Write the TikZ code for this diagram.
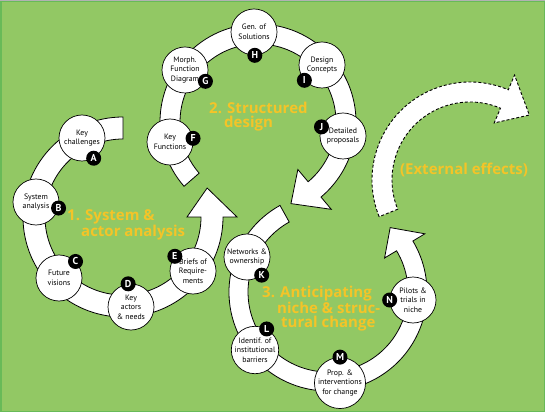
\documentclass[tikz,border=0pt]{standalone}
\usepackage{fontspec}
\setmainfont{PT Sans}
\newfontfamily\phasefont{Open Sans}

\definecolor{bggreen}{RGB}{146,200,100}
\definecolor{rimgreen}{RGB}{104,186,88}
\definecolor{titleyellow}{RGB}{244,196,40}

\tikzset{
  band/.style={draw=black, fill=white, line width=0.8pt, line join=miter},
  stage/.style={circle, draw, fill=white, line width=0.7pt, minimum size=46pt,
    inner sep=0pt, align=center, font=\fontsize{7.8}{9.6}\selectfont},
  badge/.style={circle, fill=black, minimum size=15pt, inner sep=0pt,
    text=white, font=\bfseries\fontsize{10}{10}\selectfont},
  phase/.style={text=titleyellow, font=\phasefont\bfseries\fontsize{15}{13.5}\selectfont,
    align=left, inner sep=0pt, anchor=north west},
}

% #2 centre, #3 inner radius, #4 outer radius, #5 start, #6 end, #7 tip angle, #8 wing
\newcommand{\ringarrow}[8][]{%
  \draw[band, shift={#2}, #1] (#5:#4) arc[start angle=#5, end angle=#6, radius=#4]
    -- (#6:{#4+#8}) -- (#7:{(#3+#4)/2}) -- (#6:{#3-#8}) -- (#6:#3)
    arc[start angle=#6, end angle=#5, radius=#3] -- cycle;}

\begin{document}
\begin{tikzpicture}[x=1pt, y=1pt]
    \useasboundingbox (0,0) rectangle (545,415);
    \fill[white] (0,0) rectangle (545,415);
    \fill[bggreen] (0,3) rectangle (545,415);
    \draw[rimgreen, line width=1.5pt] (0.75,3.75) rectangle (544.25,413.5);
    \draw[gray!60, line width=1pt] (0,414.5) -- (545,414.5);

    % the four loops
    \ringarrow{(123,198)}{78}{100}{90}{360}{379}{14}
    \ringarrow{(258,293)}{78}{98}{221}{-50}{-68}{16}
    \ringarrow{(328,123)}{80}{99}{119}{391}{406}{14}
    \ringarrow[dashed, line width=0.9pt, dash pattern=on 3pt off 2pt]{(470,235)}{78}{98}{202}{67}{47.6}{16}

    % 1. system & actor analysis
    \node[stage] (A) at (82, 277) {Key\\challenges};
    \node[stage] (B) at (36, 213) {System\\analysis};
    \node[stage] (C) at (59, 137) {Future\\visions};
    \node[stage] (D) at (131, 108) {Key\\actors\\\& needs};
    \node[stage] (E) at (193, 144) {Briefs of\\Require-\\ments};

    % 2. structured design
    \node[stage] (F) at (170, 273) {Key\\Functions};
    \node[stage] (G) at (185, 345) {Morph.\\Function\\Diagram};
    \node[stage] (H) at (254, 383) {Gen. of\\Solutions};
    \node[stage] (I) at (322, 350) {Design\\Concepts};
    \node[stage] (J) at (343, 279) {Detailed\\proposals};

    % 3. anticipating niche & structural change
    \node[stage] (K) at (247, 158) {Networks \&\\ownership};
    \node[stage] (L) at (255, 65) {Identif. of\\institutional\\barriers};
    \node[stage] (M) at (340, 32) {Prop. \&\\interventions\\for change};
    \node[stage] (N) at (413, 115) {Pilots \&\\trials in\\niche};

    \node[badge] (bA) at (A.300) {A};
    \node[badge] (bB) at (B.345) {B};
    \node[badge] (bC) at (C.45) {C};
    \node[badge] (bD) at (D.97) {D};
    \node[badge] (bE) at (E.141) {E};
    \node[badge] (bF) at (F.9) {F};
    \node[badge] (bG) at (G.331) {G};
    \node[badge] (bH) at (H.272) {H};
    \node[badge] (bI) at (I.221) {I};
    \node[badge] (bJ) at (J.157) {J};
    \node[badge] (bK) at (K.309) {K};
    \node[badge] (bL) at (L.61) {L};
    \node[badge] (bM) at (M.90) {M};
    \node[badge] (bN) at (N.180) {N};

    \node[phase] (p1) at (67, 206) {1. System \&\\\hspace*{14pt}actor analysis};
    \node[phase] (p2) at (209, 313) {2. Structured\\\hspace*{15pt}design};
    \node[phase] (p3) at (262, 129) {3. Anticipating\\\hspace*{15pt}niche \& struc-\\\hspace*{19pt}tural change};
    \node[phase, anchor=center] (p4) at (464, 245) {(External effects)};
\end{tikzpicture}
\end{document}
